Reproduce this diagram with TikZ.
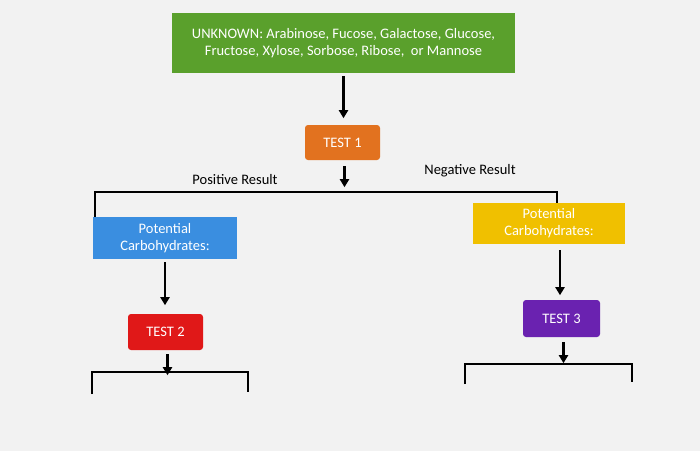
\documentclass[tikz,border=0pt]{standalone}
\usepackage{fontspec}
\setmainfont{Carlito}
\usetikzlibrary{arrows.meta}
\definecolor{gr}{HTML}{5AA02C}
\definecolor{orng}{HTML}{E2721F}
\definecolor{blu}{HTML}{3A8EE0}
\definecolor{yel}{HTML}{F0C000}
\definecolor{rd}{HTML}{E01818}
\definecolor{pur}{HTML}{6A22B0}
\begin{document}
\begin{tikzpicture}[x=1pt,y=-1pt,
  box/.style={draw=none,text=white,align=center,font=\fontsize{14.5}{17}\selectfont,inner sep=0pt},
  tbox/.style={box,rounded corners=3pt},
  arr/.style={-{Triangle[length=8pt,width=9pt]},line width=2.4pt},
  ln/.style={line width=1.3pt},
  lab/.style={font=\fontsize{14.5}{17}\selectfont}]
\fill[gray!10] (0,0) rectangle (700,451);
\useasboundingbox (0,0) rectangle (700,451);
\node[box,fill=gr,minimum width=343pt,minimum height=60pt] (u) at (343.5,43) {UNKNOWN: Arabinose, Fucose, Galactose, Glucose,\\Fructose, Xylose, Sorbose, Ribose,\ \ or Mannose};
\node[tbox,fill=orng,minimum width=75pt,minimum height=35pt] (t1) at (342.5,142.5) {TEST 1};
\node[box,fill=blu,minimum width=144pt,minimum height=42pt] (p1) at (165,238) {Potential\\Carbohydrates:};
\node[box,fill=yel,minimum width=152pt,minimum height=41pt] (p2) at (549,223.5) {Potential\\Carbohydrates:};
\node[tbox,fill=rd,minimum width=75pt,minimum height=36pt] (t2) at (165.5,332) {TEST 2};
\node[tbox,fill=pur,minimum width=77pt,minimum height=37pt] (t3) at (561.5,318.5) {TEST 3};
\node[lab] (pr) at (235,180) {Positive Result};
\node[lab] (nr) at (470,171) {Negative Result};
\draw[arr] (u.south) ++(0,3) -- ++(0,42);
\draw[arr] (t1.south) ++(2,6) -- ++(0,21);
\coordinate (hl) at (95,192);
\coordinate (hr) at (557,192);
\draw[ln] (p1.north -| hl) -- (hl) -- (hr) -- (p2.north -| hr);
\draw[arr] (p1.south) ++(0,3) -- ++(0,43);
\draw[arr] (p2.south) ++(11,6) -- ++(0,45);
\draw[arr] (t2.south) ++(2,4) -- ++(0,21);
\draw[arr] (t3.south) ++(2,5) -- ++(0,21);
\coordinate (b1l) at (92,372); \coordinate (b1r) at (248,372);
\draw[ln] (92,394) -- (b1l) -- (b1r) -- (248,392);
\coordinate (b2l) at (465,364); \coordinate (b2r) at (632,364);
\draw[ln] (465,384) -- (b2l) -- (b2r) -- (632,382);
\end{tikzpicture}
\end{document}
